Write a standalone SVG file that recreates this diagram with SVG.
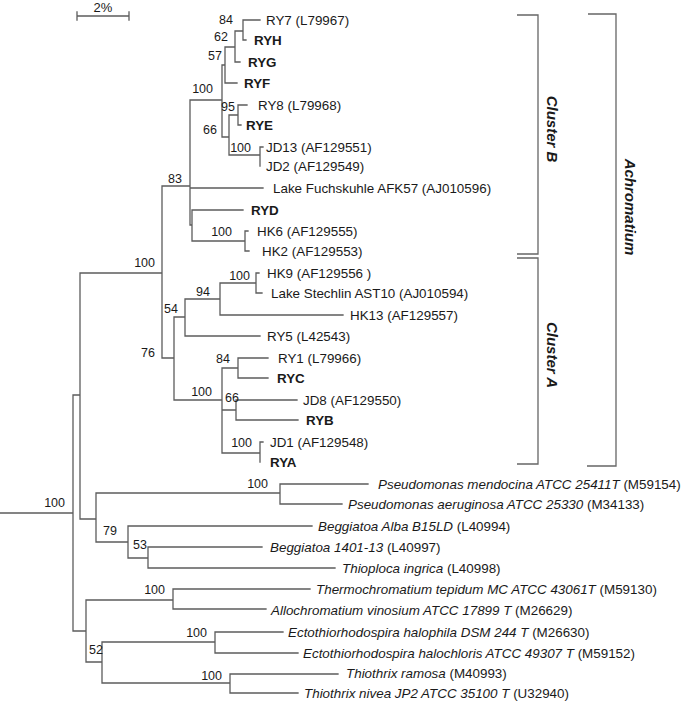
<svg xmlns="http://www.w3.org/2000/svg" width="685" height="704" viewBox="0 0 685 704">
<style>
text{font-family:"Liberation Sans",Arial,Helvetica,sans-serif;fill:#1a1a1a}
.lf{font-size:13.4px}
.b{font-weight:bold}
.i{font-style:italic}
.bs{font-size:12.5px;text-anchor:end}
.br{fill:none;stroke:#5c5c5c;stroke-width:1.3;stroke-linecap:square}
.bk{fill:none;stroke:#666;stroke-width:1.3}
.cl{font-size:15px;font-weight:bold;font-style:italic;text-anchor:middle}
</style>
<rect width="685" height="704" fill="#fff"/>
<g id="scale">
<path class="br" d="M77 16H129M77 12V20M129 12V20"/>
<text x="103" y="12" font-size="13" text-anchor="middle">2%</text>
</g>
<g id="branches">
<path class="br" d="M0 513H73M73 395V631M73 395H80M80 273V519M73 631H86
M80 273H162M162 186V358
M162 186H190M190 100V225
M190 100H222M222 65V137
M222 65H225M225 47V83M225 83H237
M225 47H235M235 31V62M235 62H240
M235 31H243M243 20V40M243 20H260M243 40H246
M222 137H229M229 115V155
M229 115H238M238 105V125M238 105H247M238 125H241
M229 155H260M260 147V166M260 147H263
M190 188H263
M190 225H192M192 210V241M192 210H243M192 241H245M245 231V251M245 231H248M245 251H249
M162 358H174M174 317V400
M174 317H185M185 299V336M185 336H260
M185 299H220M220 283V315M220 315H343
M220 283H256M256 273V293M256 273H259M256 293H262
M174 400H222M222 368V453
M222 368H238M238 358V378M238 358H268M238 378H268
M222 410H236M236 400V420M236 400H297M236 420H298
M222 453H260M260 442V462M260 442H263
M80 519H96M96 493V542M96 493H280M280 484V504M280 484H368M280 504H342
M96 542H128M128 526V558M128 526H312M128 558H148M148 547V568M148 547H262M148 568H335
M86 600V662M86 600H173M173 589V609M173 589H310M173 609H266
M86 662H102M102 642V683M102 642H215M215 632V653M215 632H283M215 653H298
M102 683H230M230 674V693M230 674H338M230 693H298"/>
</g>
<g id="support">
<text class="bs" x="233" y="24">84</text>
<text class="bs" x="228" y="41">62</text>
<text class="bs" x="222" y="60">57</text>
<text class="bs" x="213" y="93">100</text>
<text class="bs" x="235" y="111">95</text>
<text class="bs" x="217" y="134">66</text>
<text class="bs" x="251" y="152">100</text>
<text class="bs" x="182" y="183">83</text>
<text class="bs" x="232" y="236">100</text>
<text class="bs" x="155" y="267">100</text>
<text class="bs" x="250" y="280">100</text>
<text class="bs" x="210" y="296">94</text>
<text class="bs" x="178" y="313">54</text>
<text class="bs" x="155" y="357">76</text>
<text class="bs" x="230" y="363">84</text>
<text class="bs" x="212" y="396">100</text>
<text class="bs" x="239" y="402">66</text>
<text class="bs" x="252" y="447">100</text>
<text class="bs" x="65" y="507">100</text>
<text class="bs" x="268" y="488">100</text>
<text class="bs" x="117" y="535">79</text>
<text class="bs" x="147" y="549">53</text>
<text class="bs" x="165" y="594">100</text>
<text class="bs" x="103" y="654">52</text>
<text class="bs" x="207" y="637">100</text>
<text class="bs" x="222" y="680">100</text>
</g>
<g id="leaf-RY7"><text class="lf" x="266" y="25">RY7 (L79967)</text></g>
<g id="leaf-RYH"><text class="lf b" x="254" y="45">RYH</text></g>
<g id="leaf-RYG"><text class="lf b" x="248" y="67">RYG</text></g>
<g id="leaf-RYF"><text class="lf b" x="244" y="88">RYF</text></g>
<g id="leaf-RY8"><text class="lf" x="258" y="110">RY8 (L79968)</text></g>
<g id="leaf-RYE"><text class="lf b" x="246" y="130">RYE</text></g>
<g id="leaf-JD13"><text class="lf" x="266" y="152">JD13 (AF129551)</text></g>
<g id="leaf-JD2"><text class="lf" x="266" y="171">JD2 (AF129549)</text></g>
<g id="leaf-AFK57"><text class="lf" x="273" y="193">Lake Fuchskuhle AFK57 (AJ010596)</text></g>
<g id="leaf-RYD"><text class="lf b" x="251" y="215">RYD</text></g>
<g id="leaf-HK6"><text class="lf" x="257" y="236">HK6 (AF129555)</text></g>
<g id="leaf-HK2"><text class="lf" x="262" y="256">HK2 (AF129553)</text></g>
<g id="leaf-HK9"><text class="lf" x="267" y="278">HK9 (AF129556 )</text></g>
<g id="leaf-AST10"><text class="lf" x="271" y="298">Lake Stechlin AST10 (AJ010594)</text></g>
<g id="leaf-HK13"><text class="lf" x="350" y="320">HK13 (AF129557)</text></g>
<g id="leaf-RY5"><text class="lf" x="267" y="341">RY5 (L42543)</text></g>
<g id="leaf-RY1"><text class="lf" x="278" y="363">RY1 (L79966)</text></g>
<g id="leaf-RYC"><text class="lf b" x="277" y="383">RYC</text></g>
<g id="leaf-JD8"><text class="lf" x="303" y="405">JD8 (AF129550)</text></g>
<g id="leaf-RYB"><text class="lf b" x="306" y="425">RYB</text></g>
<g id="leaf-JD1"><text class="lf" x="270" y="447">JD1 (AF129548)</text></g>
<g id="leaf-RYA"><text class="lf b" x="270" y="467">RYA</text></g>
<g id="leaf-Pmend"><text class="lf" x="378" y="489"><tspan class="i">Pseudomonas mendocina ATCC 25411T</tspan> (M59154)</text></g>
<g id="leaf-Paer"><text class="lf" x="348" y="509"><tspan class="i">Pseudomonas aeruginosa ATCC 25330</tspan> (M34133)</text></g>
<g id="leaf-Balba"><text class="lf" x="318" y="531"><tspan class="i">Beggiatoa Alba B15LD</tspan> (L40994)</text></g>
<g id="leaf-B1401"><text class="lf" x="270" y="552"><tspan class="i">Beggiatoa 1401-13</tspan> (L40997)</text></g>
<g id="leaf-Thioploca"><text class="lf" x="342" y="573"><tspan class="i">Thioploca ingrica</tspan> (L40998)</text></g>
<g id="leaf-Thermo"><text class="lf" x="316" y="594"><tspan class="i">Thermochromatium tepidum MC ATCC 43061T</tspan> (M59130)</text></g>
<g id="leaf-Allo"><text class="lf" x="271" y="615"><tspan class="i">Allochromatium vinosium ATCC 17899 T</tspan> (M26629)</text></g>
<g id="leaf-Ehal"><text class="lf" x="288" y="637"><tspan class="i">Ectothiorhodospira halophila DSM 244 T</tspan> (M26630)</text></g>
<g id="leaf-Ehalo"><text class="lf" x="303" y="658"><tspan class="i">Ectothiorhodospira halochloris ATCC 49307 T</tspan> (M59152)</text></g>
<g id="leaf-Tram"><text class="lf" x="346" y="678"><tspan class="i">Thiothrix ramosa</tspan> (M40993)</text></g>
<g id="leaf-Tniv"><text class="lf" x="304" y="698"><tspan class="i">Thiothrix nivea JP2 ATCC 35100 T</tspan> (U32940)</text></g>
<g id="clusterB">
<path class="bk" d="M517 15H538V254H517"/>
<text class="cl" transform="translate(547,129) rotate(90)">Cluster B</text>
</g>
<g id="clusterA">
<path class="bk" d="M517 258H538V464H517"/>
<text class="cl" transform="translate(547,355) rotate(90)">Cluster A</text>
</g>
<g id="achromatium">
<path class="bk" d="M588 14H616V466H587"/>
<text class="cl" transform="translate(625,207) rotate(90)">Achromatium</text>
</g>
</svg>
